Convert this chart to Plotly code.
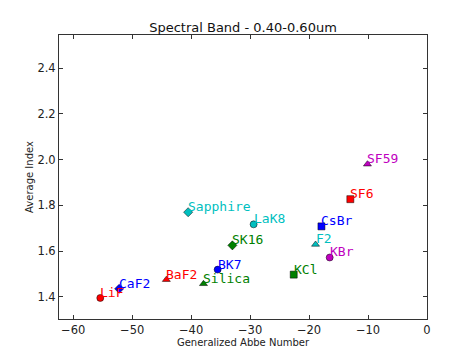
import plotly.graph_objects as go

# Data
materials = ["LiF", "CaF2", "BaF2", "Silica", "BK7", "SK16", "Sapphire", "LaK8",
             "SF59", "SF6", "CsBr", "F2", "KBr", "KCl"]
abbe = [-55.4, -52.2, -44.2, -37.9, -35.5, -33.0, -40.5, -29.4,
        -10.1, -13.0, -17.9, -18.9, -16.5, -22.6]
avg_index = [1.395, 1.435, 1.475, 1.457, 1.519, 1.625, 1.770, 1.717,
             1.980, 1.827, 1.708, 1.629, 1.572, 1.497]
x_ticks = [-60, -50, -40, -30, -20, -10, 0]
y_ticks = [1.4, 1.6, 1.8, 2.0, 2.2, 2.4]

# Styles
color_of = {"LiF": "#FF0000", "CaF2": "#0000FF", "BaF2": "#FF0000", "Silica": "#008000",
            "BK7": "#0000FF", "SK16": "#008000", "Sapphire": "#00BFBF", "LaK8": "#00BFBF",
            "SF59": "#BF00BF", "SF6": "#FF0000", "CsBr": "#0000FF", "F2": "#00BFBF",
            "KBr": "#BF00BF", "KCl": "#008000"}
symbol_of = {"LiF": "circle", "CaF2": "diamond", "BaF2": "triangle-up", "Silica": "triangle-up",
             "BK7": "circle", "SK16": "diamond", "Sapphire": "diamond", "LaK8": "circle",
             "SF59": "triangle-up", "SF6": "square", "CsBr": "square", "F2": "triangle-up",
             "KBr": "circle", "KCl": "square"}

fig = go.Figure()
fig.add_trace(go.Scatter(
    x=abbe, y=avg_index, mode="markers",
    marker=dict(color=[color_of[m] for m in materials],
                symbol=[symbol_of[m] for m in materials],
                size=7, line=dict(width=0.5, color="#000000")),
    showlegend=False, hoverinfo="skip"))

for m, xv, yv in zip(materials, abbe, avg_index):
    fig.add_annotation(x=xv, y=yv, xref="x", yref="y", text=m, showarrow=False,
                       xanchor="left", yanchor="bottom", yshift=-4, xshift=-2,
                       font=dict(family="DejaVu Sans Mono", size=13, color=color_of[m]))

axis_common = dict(showline=True, linecolor="#333333", linewidth=1, mirror="allticks",
                   ticks="inside", ticklen=4, tickcolor="#333333", showgrid=False,
                   zeroline=False, tickfont=dict(family="DejaVu Sans", size=11.5, color="#222222"))

fig.update_layout(
    width=474, height=355,
    margin=dict(l=59, r=47, t=35, b=36),
    paper_bgcolor="white", plot_bgcolor="white",
    title=dict(text="Spectral Band - 0.40-0.60um", x=(59 + 427) / 2 / 474, xanchor="center",
               y=1 - 32 / 355, yanchor="bottom",
               font=dict(family="DejaVu Sans", size=13, color="#111111")),
    xaxis=dict(range=[-62.4, 0], tickvals=x_ticks,
               title=dict(text="Generalized Abbe Number", standoff=0,
                          font=dict(family="DejaVu Sans", size=10, color="#222222")),
               **axis_common),
    yaxis=dict(range=[1.303, 2.545], tickvals=y_ticks, tickformat=".1f",
               title=dict(text="Average Index", standoff=1,
                          font=dict(family="DejaVu Sans", size=10, color="#222222")),
               **axis_common),
)

fig.write_html("out.html")
